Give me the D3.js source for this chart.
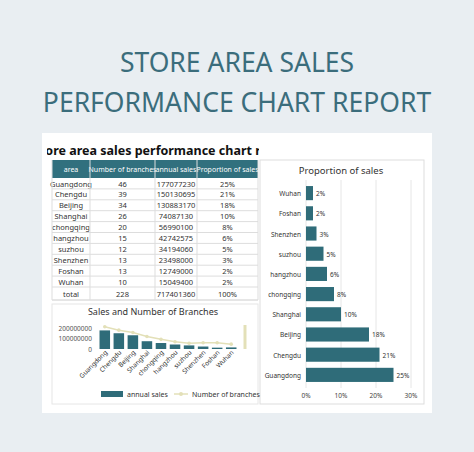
<!DOCTYPE html>
<html>
<head>
  <script src="https://d3js.org/d3.v7.min.js"></script>
  <style>
    body { margin: 0; padding: 0; background: #e9eef2; font-family: "Noto Sans", "Open Sans", sans-serif; }
  </style>
</head>
<body>
  <div id="chart"></div>
  <script>
    var width = 474, height = 452;
    var teal = "#2f6c79";

    // data
    var areas = ["Guangdong","Chengdu","Beijing","Shanghai","chongqing","hangzhou","suzhou","Shenzhen","Foshan","Wuhan"];
    var branches = [46,39,34,26,20,15,12,13,13,10];
    var sales = [177077230,150130695,130883170,74087130,56990100,42742575,34194060,23498000,12749000,15049400];
    var shares = [25,21,18,10,8,6,5,3,2,2];
    var headers = ["area","Number of branches","annual sales","Proportion of sales"];
    var totalRow = ["total","228","717401360","100%"];
    var shareTicks = [0,10,20,30];
    var salesTicks = [0,100000000,200000000];

    var svg = d3.select("#chart").append("svg").attr("width", width).attr("height", height);
    svg.append("rect").attr("width", width).attr("height", height).attr("fill", "#e9eef2");

    svg.selectAll(".ttl").data(["STORE AREA SALES","PERFORMANCE CHART REPORT"]).enter()
      .append("text").attr("x", width/2).attr("y", function(d,i){ return 72 + i*40; })
      .attr("text-anchor","middle").attr("fill","#3b6d7c").attr("font-size", 26.5)
      .attr("font-family","Noto Sans").text(function(d){ return d; });

    // white sheet
    svg.append("rect").attr("x",42).attr("y",133).attr("width",390).attr("height",280).attr("fill","#fff");
    svg.append("clipPath").attr("id","sheetclip").append("rect").attr("x",47).attr("y",133).attr("width",212).attr("height",30);
    svg.append("text").attr("x",33).attr("y",155).attr("clip-path","url(#sheetclip)")
      .attr("font-size",12.5).attr("font-weight","bold").attr("fill","#111")
      .text("Store area sales performance chart report");

    /*
    TABLE
    */
    var colX = [52,90,155,197,258];
    var headY = 160, headH = 18, rowH = 10.9;
    svg.append("rect").attr("x",52).attr("y",headY).attr("width",206).attr("height",headH).attr("fill","#31707e");
    headers.forEach(function(h,i){
      svg.append("text").attr("x",(colX[i]+colX[i+1])/2).attr("y",headY+12)
        .attr("text-anchor","middle").attr("font-size",7).attr("fill","#fff").text(h);
    });
    var rows = areas.map(function(a,i){ return [a, branches[i], sales[i], shares[i]+"%"]; });
    rows.forEach(function(r,j){
      var y = headY + headH + j*rowH;
      r.forEach(function(v,i){
        svg.append("text").attr("x",(colX[i]+colX[i+1])/2).attr("y",y+8.5)
          .attr("text-anchor","middle").attr("font-size",7.5).attr("fill","#333").text(v);
      });
      svg.append("line").attr("x1",52).attr("x2",258).attr("y1",y+rowH).attr("y2",y+rowH).attr("stroke","#ddd");
    });
    var ty = headY + headH + rows.length*rowH;
    totalRow.forEach(function(v,i){
      svg.append("text").attr("x",(colX[i]+colX[i+1])/2).attr("y",ty+9.5)
        .attr("text-anchor","middle").attr("font-size",7.5).attr("fill","#333").text(v);
    });
    svg.append("line").attr("x1",52).attr("x2",258).attr("y1",ty+13).attr("y2",ty+13).attr("stroke","#ccc");
    colX.forEach(function(x){
      svg.append("line").attr("x1",x).attr("x2",x).attr("y1",headY).attr("y2",ty+13).attr("stroke","#ddd");
    });

    /*
    PROPORTION BAR CHART
    */
    svg.append("rect").attr("x",260).attr("y",160).attr("width",164).attr("height",244).attr("fill","none").attr("stroke","#ddd");
    svg.append("text").attr("x",341).attr("y",174).attr("text-anchor","middle").attr("font-size",9.5).attr("fill","#333").text("Proportion of sales");
    var xS = d3.scaleLinear().domain([0,30]).range([306,411]);
    var yB = d3.scaleBand().domain(areas.slice().reverse()).range([180,388]).padding(0.3);
    shareTicks.forEach(function(t){
      svg.append("line").attr("x1",xS(t)).attr("x2",xS(t)).attr("y1",180).attr("y2",388).attr("stroke","#e6e6e6");
      svg.append("text").attr("x",xS(t)).attr("y",398).attr("text-anchor","middle").attr("font-size",6.5).attr("fill","#444").text(t+"%");
    });
    areas.forEach(function(a,i){
      svg.append("rect").attr("x",xS(0)).attr("y",yB(a)).attr("width",xS(shares[i])-xS(0)).attr("height",yB.bandwidth()).attr("fill",teal);
      svg.append("text").attr("x",xS(shares[i])+3).attr("y",yB(a)+yB.bandwidth()/2+3).attr("font-size",6.5).attr("fill","#333").text(shares[i]+"%");
      svg.append("text").attr("x",xS(0)-5).attr("y",yB(a)+yB.bandwidth()/2+3).attr("text-anchor","end").attr("font-size",6.5).attr("fill","#333").text(a);
    });

    /*
    SALES AND BRANCHES COMBO
    */
    svg.append("rect").attr("x",52).attr("y",304).attr("width",206).attr("height",100).attr("fill","none").attr("stroke","#e6e6e6");
    svg.append("text").attr("x",153).attr("y",315).attr("text-anchor","middle").attr("font-size",9).attr("fill","#333").text("Sales and Number of Branches");
    var xC = d3.scaleBand().domain(areas).range([96,240]).padding(0.25);
    var yC = d3.scaleLinear().domain([0,200000000]).range([349,328]);
    var yN = d3.scaleLinear().domain([0,60]).range([349,320]);
    salesTicks.forEach(function(t){
      svg.append("text").attr("x",92).attr("y",yC(t)+2.5).attr("text-anchor","end").attr("font-size",6.5).attr("fill","#555").text(t);
    });
    areas.forEach(function(a,i){
      svg.append("rect").attr("x",xC(a)).attr("y",yC(sales[i])).attr("width",xC.bandwidth()).attr("height",yC(0)-yC(sales[i])).attr("fill",teal);
      svg.append("text").attr("transform","translate("+(xC(a)+xC.bandwidth()/2+3)+",353) rotate(-45)")
        .attr("text-anchor","end").attr("font-size",6.5).attr("fill","#333").text(a);
    });
    var line = d3.line().x(function(d,i){ return xC(areas[i])+xC.bandwidth()/2; }).y(function(d){ return yN(d); });
    svg.append("path").datum(branches).attr("d",line).attr("fill","none").attr("stroke","#e3e0b8").attr("stroke-width",1.5);
    svg.selectAll(".dot").data(branches).enter().append("circle")
      .attr("cx",function(d,i){ return xC(areas[i])+xC.bandwidth()/2; }).attr("cy",function(d){ return yN(d); })
      .attr("r",1.8).attr("fill","#e3e0b8");
    svg.append("line").attr("x1",245).attr("x2",245).attr("y1",325).attr("y2",349).attr("stroke","#e3e0b8").attr("stroke-width",3);

    // legend
    svg.append("rect").attr("x",101).attr("y",391).attr("width",22).attr("height",6).attr("fill",teal);
    svg.append("text").attr("x",127).attr("y",397).attr("font-size",7).attr("fill","#333").text("annual sales");
    svg.append("line").attr("x1",174).attr("x2",188).attr("y1",394).attr("y2",394).attr("stroke","#e3e0b8").attr("stroke-width",1.5);
    svg.append("circle").attr("cx",181).attr("cy",394).attr("r",2).attr("fill","#e3e0b8");
    svg.append("text").attr("x",192).attr("y",397).attr("font-size",7).attr("fill","#333").text("Number of branches");
  </script>
</body>
</html>
